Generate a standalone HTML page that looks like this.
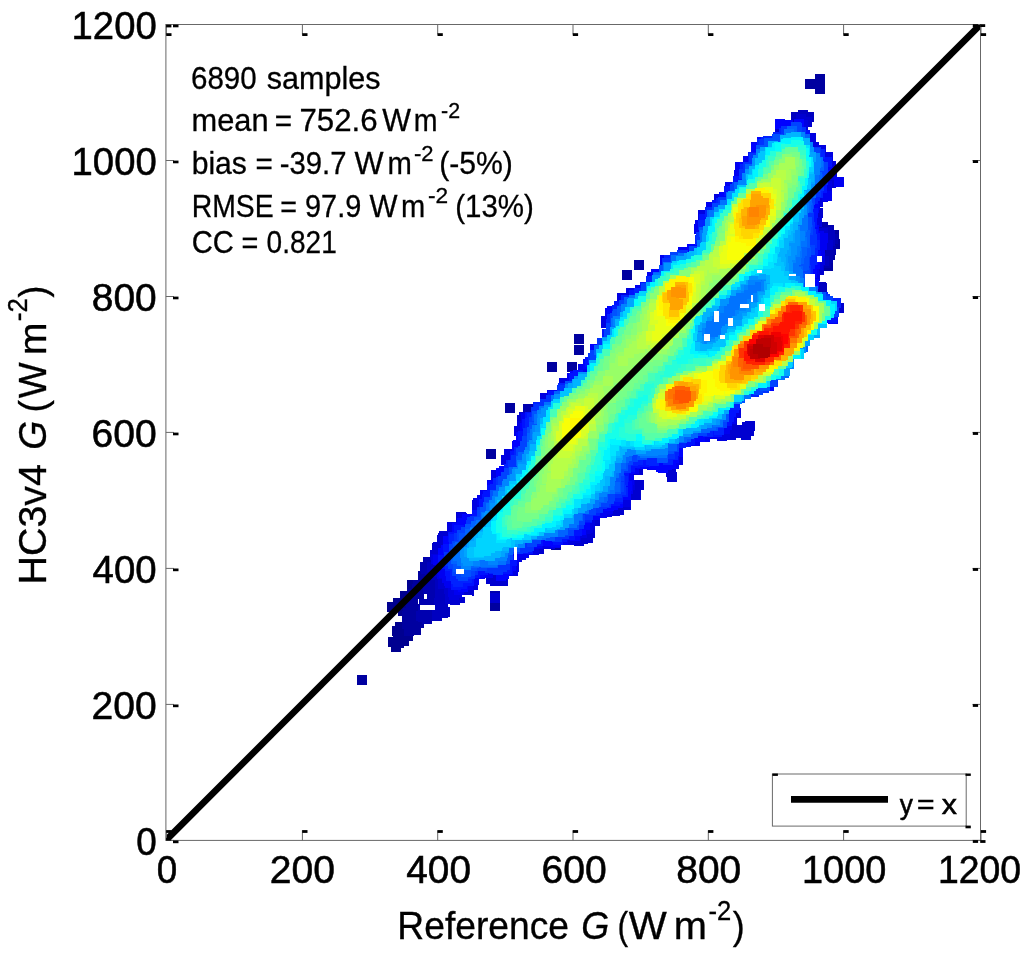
<!DOCTYPE html>
<html lang="en"><head><meta charset="utf-8"><title>HC3v4 G vs Reference G</title>
<style>
html,body{margin:0;padding:0;background:#fff;}
body{width:1024px;height:953px;overflow:hidden;}
svg{display:block;}
text{font-family:"Liberation Sans",Arial,Helvetica,sans-serif;fill:#000;stroke:#000;stroke-width:0.55px;}
.ax text{stroke-width:0.35px;}
.an text{stroke-width:0.3px;}
</style></head><body>
<svg width="1024" height="953" viewBox="0 0 1024 953">
<rect x="0" y="0" width="1024" height="953" fill="#fff"/>
<g shape-rendering="crispEdges">
<path fill="#000090" d="M391 642h10v10h-10zM387 602h10v10h-10zM388 637h10v10h-10zM394 638h10v10h-10zM399 636h10v10h-10zM392 626h10v10h-10zM393 633h10v10h-10zM394 632h10v10h-10zM393 598h10v10h-10zM395 625h10v10h-10zM395 622h10v10h-10zM403 631h10v10h-10zM400 591h10v10h-10zM398 602h10v10h-10zM400 593h10v10h-10zM402 627h10v10h-10zM398 606h10v10h-10zM407 580h10v10h-10zM407 584h10v10h-10z"/>
<path fill="#0000a0" d="M404 626h10v10h-10zM402 619h10v10h-10zM407 589h10v10h-10zM404 596h10v10h-10zM403 617h10v10h-10zM402 611h10v10h-10zM403 608h10v10h-10zM412 584h10v10h-10zM413 580h10v10h-10zM413 584h10v10h-10zM406 602h10v10h-10zM357 675h10v10h-10zM486 449h10v10h-10zM490 601h10v10h-10zM505 403h10v10h-10zM547 362h10v10h-10zM551 540h10v10h-10zM567 362h10v10h-10zM574 334h10v10h-10zM574 345h10v10h-10zM622 270h10v10h-10zM634 260h10v10h-10zM735 162h10v10h-10zM805 79h10v10h-10zM815 74h10v10h-10zM815 84h10v10h-10zM406 605h10v10h-10zM408 599h10v10h-10zM407 619h10v10h-10zM823 261h10v10h-10zM411 625h10v10h-10zM414 589h10v10h-10zM410 621h10v10h-10zM409 616h10v10h-10zM411 606h10v10h-10zM418 571h10v10h-10zM411 611h10v10h-10zM420 574h10v10h-10zM414 604h10v10h-10zM830 239h10v10h-10zM413 616h10v10h-10zM829 230h10v10h-10zM414 618h10v10h-10zM825 250h10v10h-10zM421 584h10v10h-10z"/>
<path fill="#0000b0" d="M490 591h10v10h-10zM420 562h10v10h-10zM416 611h10v10h-10zM821 258h10v10h-10zM423 584h10v10h-10zM421 564h10v10h-10zM823 253h10v10h-10zM419 599h10v10h-10zM824 225h10v10h-10zM418 605h10v10h-10zM424 581h10v10h-10zM818 222h10v10h-10zM418 612h10v10h-10zM826 245h10v10h-10zM425 574h10v10h-10zM423 563h10v10h-10zM427 591h10v10h-10zM422 614h10v10h-10zM428 578h10v10h-10zM428 576h10v10h-10zM429 590h10v10h-10zM427 597h10v10h-10zM424 606h10v10h-10zM428 597h10v10h-10zM427 569h10v10h-10zM828 234h10v10h-10zM427 601h10v10h-10zM431 585h10v10h-10zM426 608h10v10h-10zM523 404h10v10h-10zM423 557h10v10h-10z"/>
<path fill="#0000c0" d="M825 230h10v10h-10zM434 598h10v10h-10zM819 256h10v10h-10zM435 590h10v10h-10zM435 583h10v10h-10zM822 227h10v10h-10zM432 606h10v10h-10zM817 283h10v10h-10zM432 611h10v10h-10zM438 593h10v10h-10zM438 586h10v10h-10zM435 606h10v10h-10zM431 570h10v10h-10zM438 600h10v10h-10zM435 577h10v10h-10zM427 562h10v10h-10zM438 608h10v10h-10zM437 579h10v10h-10zM440 607h10v10h-10zM791 112h10v10h-10zM798 110h10v10h-10zM804 112h10v10h-10zM432 543h10v10h-10zM825 236h10v10h-10zM816 282h10v10h-10z"/>
<path fill="#0000d0" d="M517 415h10v10h-10zM834 303h10v10h-10zM431 567h10v10h-10zM741 430h10v10h-10zM438 579h10v10h-10zM433 542h10v10h-10zM744 426h10v10h-10zM823 240h10v10h-10zM796 114h10v10h-10zM445 594h10v10h-10zM519 412h10v10h-10zM445 592h10v10h-10zM814 265h10v10h-10zM433 544h10v10h-10zM430 550h10v10h-10zM802 117h10v10h-10zM437 535h10v10h-10zM439 531h10v10h-10zM438 533h10v10h-10zM745 421h10v10h-10zM740 427h10v10h-10zM583 533h10v10h-10zM742 422h10v10h-10zM490 593h10v10h-10zM734 428h10v10h-10zM732 428h10v10h-10zM734 425h10v10h-10zM631 490h10v10h-10zM634 480h10v10h-10zM731 425h10v10h-10zM667 472h10v10h-10zM726 430h10v10h-10zM585 528h10v10h-10zM578 534h10v10h-10zM455 593h10v10h-10zM450 595h10v10h-10zM775 123h10v10h-10zM574 536h10v10h-10zM490 576h10v10h-10zM534 544h10v10h-10zM666 467h10v10h-10zM486 574h10v10h-10zM813 208h10v10h-10zM818 228h10v10h-10zM826 178h10v10h-10zM621 500h10v10h-10zM464 586h10v10h-10zM614 505h10v10h-10zM727 418h10v10h-10zM610 506h10v10h-10zM633 465h10v10h-10zM590 516h10v10h-10zM444 584h10v10h-10zM456 512h10v10h-10zM498 576h10v10h-10z"/>
<path fill="#0000e1" d="M731 408h10v10h-10zM827 170h10v10h-10zM720 430h10v10h-10zM468 580h10v10h-10zM812 217h10v10h-10zM815 255h10v10h-10zM504 449h10v10h-10zM818 192h10v10h-10zM447 522h10v10h-10zM583 523h10v10h-10zM601 316h10v10h-10zM798 120h10v10h-10zM621 497h10v10h-10zM516 550h10v10h-10zM508 566h10v10h-10zM501 455h10v10h-10zM491 470h10v10h-10zM601 318h10v10h-10zM449 590h10v10h-10zM717 431h10v10h-10zM514 426h10v10h-10zM538 539h10v10h-10zM545 539h10v10h-10zM512 552h10v10h-10zM617 293h10v10h-10zM457 513h10v10h-10zM813 260h10v10h-10zM473 498h10v10h-10zM813 197h10v10h-10zM673 455h10v10h-10zM529 545h10v10h-10zM581 524h10v10h-10zM602 507h10v10h-10zM577 528h10v10h-10zM431 554h10v10h-10zM806 133h10v10h-10zM472 500h10v10h-10zM822 181h10v10h-10zM453 588h10v10h-10zM585 518h10v10h-10zM626 288h10v10h-10zM437 569h10v10h-10zM714 194h10v10h-10zM448 587h10v10h-10zM625 480h10v10h-10zM820 187h10v10h-10zM509 562h10v10h-10zM559 378h10v10h-10zM571 533h10v10h-10zM517 421h10v10h-10zM826 161h10v10h-10zM565 535h10v10h-10zM816 145h10v10h-10zM540 393h10v10h-10zM823 152h10v10h-10zM698 210h10v10h-10zM809 142h10v10h-10zM810 271h10v10h-10z"/>
<path fill="#0000f1" d="M726 414h10v10h-10zM690 436h10v10h-10zM519 548h10v10h-10zM725 182h10v10h-10zM521 413h10v10h-10zM828 314h10v10h-10zM480 490h10v10h-10zM624 475h10v10h-10zM647 272h10v10h-10zM818 233h10v10h-10zM469 575h10v10h-10zM700 432h10v10h-10zM660 255h10v10h-10zM629 464h10v10h-10zM780 121h10v10h-10zM477 495h10v10h-10zM475 569h10v10h-10zM533 539h10v10h-10zM735 162h10v10h-10zM822 191h10v10h-10zM834 177h10v10h-10zM605 308h10v10h-10zM597 508h10v10h-10zM669 459h10v10h-10zM445 578h10v10h-10zM442 573h10v10h-10zM439 568h10v10h-10zM817 240h10v10h-10zM558 535h10v10h-10zM487 480h10v10h-10zM444 576h10v10h-10zM435 561h10v10h-10zM710 429h10v10h-10zM433 555h10v10h-10zM454 585h10v10h-10zM734 170h10v10h-10zM437 564h10v10h-10zM751 142h10v10h-10zM694 224h10v10h-10zM635 285h10v10h-10zM706 202h10v10h-10zM603 504h10v10h-10zM678 247h10v10h-10zM545 537h10v10h-10zM438 565h10v10h-10zM815 246h10v10h-10zM623 470h10v10h-10zM550 538h10v10h-10zM809 264h10v10h-10zM695 220h10v10h-10zM722 420h10v10h-10zM463 580h10v10h-10zM743 156h10v10h-10zM578 364h10v10h-10zM720 424h10v10h-10zM814 231h10v10h-10zM567 373h10v10h-10zM814 248h10v10h-10zM512 441h10v10h-10zM480 568h10v10h-10zM483 568h10v10h-10zM647 460h10v10h-10zM547 390h10v10h-10zM509 554h10v10h-10zM623 484h10v10h-10zM810 200h10v10h-10zM817 236h10v10h-10z"/>
<path fill="#0002ff" d="M809 279h10v10h-10zM496 468h10v10h-10zM651 269h10v10h-10zM775 119h10v10h-10zM570 531h10v10h-10zM443 536h10v10h-10zM673 447h10v10h-10zM458 582h10v10h-10zM810 259h10v10h-10zM607 306h10v10h-10zM751 143h10v10h-10zM576 525h10v10h-10zM794 119h10v10h-10zM462 514h10v10h-10zM658 463h10v10h-10zM622 481h10v10h-10zM513 440h10v10h-10zM570 371h10v10h-10zM452 523h10v10h-10zM438 548h10v10h-10zM613 498h10v10h-10zM496 571h10v10h-10zM583 359h10v10h-10zM457 518h10v10h-10zM516 432h10v10h-10zM637 459h10v10h-10zM621 490h10v10h-10zM666 459h10v10h-10zM807 268h10v10h-10zM488 481h10v10h-10zM580 520h10v10h-10zM512 443h10v10h-10zM823 167h10v10h-10zM739 162h10v10h-10zM656 462h10v10h-10zM475 567h10v10h-10zM499 569h10v10h-10zM551 537h10v10h-10zM809 203h10v10h-10zM608 500h10v10h-10zM506 561h10v10h-10zM783 120h10v10h-10zM542 536h10v10h-10zM532 538h10v10h-10zM687 244h10v10h-10zM695 432h10v10h-10zM458 518h10v10h-10zM809 225h10v10h-10zM590 510h10v10h-10zM590 344h10v10h-10zM811 251h10v10h-10zM443 540h10v10h-10zM649 459h10v10h-10zM662 460h10v10h-10zM441 545h10v10h-10zM828 312h10v10h-10zM503 565h10v10h-10zM764 381h10v10h-10zM757 137h10v10h-10zM499 466h10v10h-10zM719 192h10v10h-10zM520 423h10v10h-10zM669 453h10v10h-10zM625 464h10v10h-10zM604 501h10v10h-10z"/>
<path fill="#0012ff" d="M712 427h10v10h-10zM681 437h10v10h-10zM451 580h10v10h-10zM464 576h10v10h-10zM808 208h10v10h-10zM733 176h10v10h-10zM724 186h10v10h-10zM822 157h10v10h-10zM507 556h10v10h-10zM522 419h10v10h-10zM483 491h10v10h-10zM553 535h10v10h-10zM446 571h10v10h-10zM821 170h10v10h-10zM525 412h10v10h-10zM630 458h10v10h-10zM487 485h10v10h-10zM439 559h10v10h-10zM817 183h10v10h-10zM724 412h10v10h-10zM827 313h10v10h-10zM518 431h10v10h-10zM569 373h10v10h-10zM448 532h10v10h-10zM685 435h10v10h-10zM470 568h10v10h-10zM523 544h10v10h-10zM722 416h10v10h-10zM572 526h10v10h-10zM602 329h10v10h-10zM457 579h10v10h-10zM800 130h10v10h-10zM443 544h10v10h-10zM548 391h10v10h-10zM699 214h10v10h-10zM748 152h10v10h-10zM454 525h10v10h-10zM613 494h10v10h-10zM502 564h10v10h-10zM640 457h10v10h-10zM808 255h10v10h-10zM533 536h10v10h-10zM573 370h10v10h-10zM625 462h10v10h-10zM438 555h10v10h-10zM619 472h10v10h-10zM807 217h10v10h-10zM482 494h10v10h-10zM610 496h10v10h-10zM640 282h10v10h-10zM478 565h10v10h-10zM585 357h10v10h-10zM510 451h10v10h-10zM726 407h10v10h-10zM712 200h10v10h-10zM810 233h10v10h-10zM445 566h10v10h-10zM557 532h10v10h-10zM729 403h10v10h-10zM629 290h10v10h-10zM479 499h10v10h-10zM808 229h10v10h-10zM565 530h10v10h-10zM582 513h10v10h-10zM472 510h10v10h-10zM614 301h10v10h-10z"/>
<path fill="#0022ff" d="M533 402h10v10h-10zM773 132h10v10h-10zM668 450h10v10h-10zM558 383h10v10h-10zM818 175h10v10h-10zM807 255h10v10h-10zM449 534h10v10h-10zM813 188h10v10h-10zM618 487h10v10h-10zM831 298h10v10h-10zM646 276h10v10h-10zM703 427h10v10h-10zM493 478h10v10h-10zM618 476h10v10h-10zM613 492h10v10h-10zM451 574h10v10h-10zM763 136h10v10h-10zM453 577h10v10h-10zM705 207h10v10h-10zM818 292h10v10h-10zM740 164h10v10h-10zM649 456h10v10h-10zM582 512h10v10h-10zM749 387h10v10h-10zM803 267h10v10h-10zM803 276h10v10h-10zM810 240h10v10h-10zM714 425h10v10h-10zM815 149h10v10h-10zM805 259h10v10h-10zM506 460h10v10h-10zM808 194h10v10h-10zM669 446h10v10h-10zM450 571h10v10h-10zM730 400h10v10h-10zM628 456h10v10h-10zM607 314h10v10h-10zM621 295h10v10h-10zM525 418h10v10h-10zM810 191h10v10h-10zM761 137h10v10h-10zM490 484h10v10h-10zM807 250h10v10h-10zM527 413h10v10h-10zM695 235h10v10h-10zM757 139h10v10h-10zM676 438h10v10h-10zM634 288h10v10h-10zM514 447h10v10h-10zM646 455h10v10h-10zM504 464h10v10h-10zM462 573h10v10h-10zM590 506h10v10h-10zM445 561h10v10h-10zM606 319h10v10h-10zM633 455h10v10h-10zM664 255h10v10h-10zM663 455h10v10h-10zM808 245h10v10h-10zM489 564h10v10h-10zM803 278h10v10h-10zM779 128h10v10h-10zM612 305h10v10h-10zM716 198h10v10h-10zM698 220h10v10h-10z"/>
<path fill="#0033ff" d="M811 147h10v10h-10zM467 517h10v10h-10zM601 498h10v10h-10zM621 463h10v10h-10zM662 258h10v10h-10zM768 377h10v10h-10zM805 222h10v10h-10zM749 153h10v10h-10zM557 385h10v10h-10zM485 563h10v10h-10zM759 383h10v10h-10zM583 510h10v10h-10zM677 250h10v10h-10zM518 543h10v10h-10zM522 542h10v10h-10zM806 229h10v10h-10zM781 126h10v10h-10zM696 232h10v10h-10zM493 565h10v10h-10zM678 250h10v10h-10zM465 569h10v10h-10zM616 485h10v10h-10zM593 503h10v10h-10zM531 407h10v10h-10zM540 399h10v10h-10zM513 544h10v10h-10zM814 181h10v10h-10zM468 565h10v10h-10zM524 541h10v10h-10zM807 234h10v10h-10zM496 477h10v10h-10zM477 507h10v10h-10zM574 519h10v10h-10zM552 532h10v10h-10zM801 265h10v10h-10zM444 552h10v10h-10zM508 460h10v10h-10zM743 162h10v10h-10zM559 529h10v10h-10zM523 428h10v10h-10zM534 404h10v10h-10zM470 516h10v10h-10zM588 353h10v10h-10zM511 455h10v10h-10zM811 187h10v10h-10zM796 127h10v10h-10zM818 166h10v10h-10zM718 197h10v10h-10zM597 338h10v10h-10zM597 499h10v10h-10zM739 169h10v10h-10zM820 294h10v10h-10zM615 475h10v10h-10zM500 560h10v10h-10zM546 395h10v10h-10zM804 212h10v10h-10zM665 449h10v10h-10zM466 520h10v10h-10zM807 238h10v10h-10zM612 488h10v10h-10zM445 556h10v10h-10zM454 533h10v10h-10zM511 544h10v10h-10zM759 139h10v10h-10zM497 562h10v10h-10z"/>
<path fill="#0043ff" d="M604 494h10v10h-10zM791 122h10v10h-10zM800 268h10v10h-10zM484 497h10v10h-10zM599 497h10v10h-10zM818 162h10v10h-10zM606 323h10v10h-10zM449 544h10v10h-10zM604 329h10v10h-10zM805 245h10v10h-10zM792 123h10v10h-10zM516 448h10v10h-10zM457 530h10v10h-10zM452 566h10v10h-10zM498 476h10v10h-10zM501 472h10v10h-10zM448 559h10v10h-10zM670 252h10v10h-10zM823 296h10v10h-10zM504 468h10v10h-10zM614 482h10v10h-10zM564 526h10v10h-10zM614 471h10v10h-10zM575 515h10v10h-10zM458 571h10v10h-10zM465 566h10v10h-10zM712 203h10v10h-10zM520 441h10v10h-10zM805 195h10v10h-10zM477 561h10v10h-10zM477 510h10v10h-10zM641 283h10v10h-10zM590 350h10v10h-10zM803 225h10v10h-10zM817 164h10v10h-10zM628 452h10v10h-10zM531 534h10v10h-10zM522 436h10v10h-10zM810 148h10v10h-10zM816 168h10v10h-10zM829 307h10v10h-10zM804 199h10v10h-10zM623 455h10v10h-10zM518 446h10v10h-10zM453 565h10v10h-10zM772 134h10v10h-10zM503 550h10v10h-10zM461 527h10v10h-10zM452 541h10v10h-10zM586 505h10v10h-10zM753 385h10v10h-10zM527 537h10v10h-10zM730 184h10v10h-10zM802 280h10v10h-10zM732 182h10v10h-10zM529 417h10v10h-10zM626 452h10v10h-10zM669 442h10v10h-10zM619 300h10v10h-10zM458 531h10v10h-10zM610 313h10v10h-10zM717 418h10v10h-10zM689 246h10v10h-10zM767 377h10v10h-10zM605 491h10v10h-10zM456 569h10v10h-10zM658 453h10v10h-10zM697 426h10v10h-10zM800 256h10v10h-10z"/>
<path fill="#0053ff" d="M803 203h10v10h-10zM490 490h10v10h-10zM799 260h10v10h-10zM657 453h10v10h-10zM802 217h10v10h-10zM465 524h10v10h-10zM480 507h10v10h-10zM618 461h10v10h-10zM798 273h10v10h-10zM760 381h10v10h-10zM483 502h10v10h-10zM532 411h10v10h-10zM801 247h10v10h-10zM569 520h10v10h-10zM813 174h10v10h-10zM764 138h10v10h-10zM453 562h10v10h-10zM611 484h10v10h-10zM658 452h10v10h-10zM461 567h10v10h-10zM708 421h10v10h-10zM659 265h10v10h-10zM799 252h10v10h-10zM735 393h10v10h-10zM773 134h10v10h-10zM681 432h10v10h-10zM474 517h10v10h-10zM467 561h10v10h-10zM453 543h10v10h-10zM545 531h10v10h-10zM613 309h10v10h-10zM664 444h10v10h-10zM801 223h10v10h-10zM527 427h10v10h-10zM451 548h10v10h-10zM699 227h10v10h-10zM797 261h10v10h-10zM612 311h10v10h-10zM459 533h10v10h-10zM810 182h10v10h-10zM500 554h10v10h-10zM719 412h10v10h-10zM529 422h10v10h-10zM614 466h10v10h-10zM756 145h10v10h-10zM637 450h10v10h-10zM611 476h10v10h-10zM565 381h10v10h-10zM510 542h10v10h-10zM816 292h10v10h-10z"/>
<path fill="#0063ff" d="M707 210h10v10h-10zM471 521h10v10h-10zM555 527h10v10h-10zM800 238h10v10h-10zM610 482h10v10h-10zM800 134h10v10h-10zM806 188h10v10h-10zM455 542h10v10h-10zM688 428h10v10h-10zM451 554h10v10h-10zM667 441h10v10h-10zM624 297h10v10h-10zM812 172h10v10h-10zM798 342h10v10h-10zM800 235h10v10h-10zM597 493h10v10h-10zM700 423h10v10h-10zM622 451h10v10h-10zM800 230h10v10h-10zM797 246h10v10h-10zM677 433h10v10h-10zM594 345h10v10h-10zM653 272h10v10h-10zM481 558h10v10h-10zM484 558h10v10h-10zM488 558h10v10h-10zM745 164h10v10h-10zM518 452h10v10h-10zM558 525h10v10h-10zM801 202h10v10h-10zM496 485h10v10h-10zM797 242h10v10h-10zM734 182h10v10h-10zM706 420h10v10h-10zM794 254h10v10h-10zM509 467h10v10h-10zM554 391h10v10h-10zM814 161h10v10h-10zM616 459h10v10h-10zM516 456h10v10h-10zM469 558h10v10h-10zM787 126h10v10h-10zM795 248h10v10h-10zM779 368h10v10h-10zM617 306h10v10h-10zM808 286h10v10h-10zM802 195h10v10h-10zM503 545h10v10h-10zM598 491h10v10h-10zM465 529h10v10h-10zM793 266h10v10h-10zM527 433h10v10h-10zM591 497h10v10h-10zM573 511h10v10h-10zM684 429h10v10h-10zM619 453h10v10h-10z"/>
<path fill="#0073ff" d="M640 448h10v10h-10zM646 448h10v10h-10zM567 518h10v10h-10zM797 237h10v10h-10zM536 530h10v10h-10zM487 557h10v10h-10zM729 302h10v10h-10zM732 294h10v10h-10zM736 300h10v10h-10zM737 294h10v10h-10zM738 296h10v10h-10zM738 299h10v10h-10zM729 303h10v10h-10zM734 305h10v10h-10zM725 302h10v10h-10zM724 304h10v10h-10zM736 291h10v10h-10zM478 557h10v10h-10zM727 310h10v10h-10zM496 555h10v10h-10zM720 303h10v10h-10zM720 309h10v10h-10zM711 316h10v10h-10zM712 319h10v10h-10zM716 313h10v10h-10zM718 317h10v10h-10zM717 311h10v10h-10zM717 322h10v10h-10zM713 323h10v10h-10zM704 323h10v10h-10zM706 319h10v10h-10zM709 327h10v10h-10zM706 316h10v10h-10zM712 329h10v10h-10zM727 294h10v10h-10zM740 288h10v10h-10zM706 330h10v10h-10zM740 287h10v10h-10zM453 551h10v10h-10zM798 220h10v10h-10zM702 320h10v10h-10zM534 414h10v10h-10zM747 289h10v10h-10zM722 319h10v10h-10zM678 253h10v10h-10zM700 331h10v10h-10zM743 283h10v10h-10zM748 289h10v10h-10zM611 318h10v10h-10zM744 297h10v10h-10zM493 491h10v10h-10zM726 315h10v10h-10zM718 302h10v10h-10zM486 503h10v10h-10zM481 512h10v10h-10zM750 285h10v10h-10zM652 448h10v10h-10zM699 326h10v10h-10zM589 498h10v10h-10zM712 308h10v10h-10zM605 484h10v10h-10zM752 279h10v10h-10zM569 515h10v10h-10zM713 417h10v10h-10zM539 406h10v10h-10zM745 278h10v10h-10zM714 329h10v10h-10zM791 255h10v10h-10zM755 281h10v10h-10zM813 157h10v10h-10zM700 230h10v10h-10zM474 557h10v10h-10zM657 448h10v10h-10zM755 287h10v10h-10zM793 270h10v10h-10zM755 275h10v10h-10zM697 240h10v10h-10zM730 289h10v10h-10zM671 255h10v10h-10zM663 262h10v10h-10zM643 447h10v10h-10zM750 274h10v10h-10zM792 248h10v10h-10zM784 129h10v10h-10zM791 267h10v10h-10zM732 311h10v10h-10zM792 269h10v10h-10zM709 210h10v10h-10zM724 319h10v10h-10zM476 520h10v10h-10zM797 222h10v10h-10zM775 370h10v10h-10zM702 336h10v10h-10zM759 284h10v10h-10zM741 389h10v10h-10zM797 215h10v10h-10zM702 317h10v10h-10zM726 192h10v10h-10zM697 324h10v10h-10zM594 492h10v10h-10zM530 429h10v10h-10zM809 174h10v10h-10zM798 211h10v10h-10zM726 292h10v10h-10zM572 510h10v10h-10zM457 556h10v10h-10zM458 544h10v10h-10zM544 402h10v10h-10zM750 294h10v10h-10zM470 527h10v10h-10zM653 273h10v10h-10zM551 395h10v10h-10zM793 273h10v10h-10zM629 295h10v10h-10zM653 447h10v10h-10zM789 260h10v10h-10zM796 226h10v10h-10zM703 337h10v10h-10zM609 468h10v10h-10zM799 203h10v10h-10zM579 504h10v10h-10zM720 200h10v10h-10z"/>
<path fill="#0084ff" d="M756 149h10v10h-10zM745 275h10v10h-10zM489 500h10v10h-10zM708 337h10v10h-10zM515 538h10v10h-10zM714 303h10v10h-10zM739 306h10v10h-10zM537 410h10v10h-10zM470 556h10v10h-10zM732 394h10v10h-10zM482 513h10v10h-10zM503 479h10v10h-10zM735 310h10v10h-10zM795 231h10v10h-10zM806 286h10v10h-10zM532 425h10v10h-10zM794 278h10v10h-10zM648 446h10v10h-10zM790 247h10v10h-10zM738 280h10v10h-10zM751 272h10v10h-10zM613 316h10v10h-10zM497 551h10v10h-10zM623 446h10v10h-10zM461 560h10v10h-10zM810 153h10v10h-10zM658 445h10v10h-10zM470 528h10v10h-10zM460 542h10v10h-10zM761 281h10v10h-10zM791 241h10v10h-10zM548 527h10v10h-10zM616 453h10v10h-10zM734 283h10v10h-10zM638 446h10v10h-10zM502 481h10v10h-10zM784 359h10v10h-10zM488 555h10v10h-10zM611 463h10v10h-10zM710 306h10v10h-10zM747 299h10v10h-10zM695 328h10v10h-10zM742 173h10v10h-10zM753 155h10v10h-10zM498 548h10v10h-10zM492 496h10v10h-10zM540 528h10v10h-10zM753 293h10v10h-10zM804 185h10v10h-10zM728 318h10v10h-10zM629 445h10v10h-10zM621 304h10v10h-10zM801 191h10v10h-10zM532 530h10v10h-10zM517 460h10v10h-10zM507 475h10v10h-10zM466 534h10v10h-10zM738 180h10v10h-10zM606 471h10v10h-10zM597 487h10v10h-10zM702 339h10v10h-10zM795 132h10v10h-10zM475 524h10v10h-10zM786 253h10v10h-10zM674 432h10v10h-10zM714 301h10v10h-10zM810 165h10v10h-10zM604 480h10v10h-10zM600 484h10v10h-10zM706 309h10v10h-10zM762 274h10v10h-10zM803 142h10v10h-10zM513 467h10v10h-10zM527 442h10v10h-10zM619 447h10v10h-10zM565 384h10v10h-10zM611 461h10v10h-10zM811 158h10v10h-10zM605 476h10v10h-10zM525 447h10v10h-10z"/>
<path fill="#0094ff" d="M790 236h10v10h-10zM728 191h10v10h-10zM512 469h10v10h-10zM694 336h10v10h-10zM602 337h10v10h-10zM805 181h10v10h-10zM583 499h10v10h-10zM787 245h10v10h-10zM732 316h10v10h-10zM499 487h10v10h-10zM796 343h10v10h-10zM578 372h10v10h-10zM745 169h10v10h-10zM485 511h10v10h-10zM463 556h10v10h-10zM710 415h10v10h-10zM484 513h10v10h-10zM722 326h10v10h-10zM524 450h10v10h-10zM785 250h10v10h-10zM574 376h10v10h-10zM716 410h10v10h-10zM714 207h10v10h-10zM797 205h10v10h-10zM752 158h10v10h-10zM734 281h10v10h-10zM581 500h10v10h-10zM652 275h10v10h-10zM694 338h10v10h-10zM522 454h10v10h-10zM757 291h10v10h-10zM691 423h10v10h-10zM757 270h10v10h-10zM746 304h10v10h-10zM727 193h10v10h-10zM460 548h10v10h-10zM739 311h10v10h-10zM702 311h10v10h-10zM541 408h10v10h-10zM725 324h10v10h-10zM721 328h10v10h-10zM529 440h10v10h-10zM664 263h10v10h-10zM783 262h10v10h-10zM490 503h10v10h-10zM702 418h10v10h-10zM790 276h10v10h-10zM706 217h10v10h-10zM731 283h10v10h-10zM538 414h10v10h-10zM696 318h10v10h-10zM711 339h10v10h-10zM717 296h10v10h-10zM544 405h10v10h-10zM461 553h10v10h-10zM783 265h10v10h-10zM719 294h10v10h-10zM785 242h10v10h-10zM554 394h10v10h-10zM790 228h10v10h-10zM510 474h10v10h-10zM782 260h10v10h-10zM537 418h10v10h-10zM518 462h10v10h-10zM782 252h10v10h-10zM749 302h10v10h-10zM737 314h10v10h-10zM535 425h10v10h-10zM804 147h10v10h-10zM705 219h10v10h-10zM681 427h10v10h-10zM747 270h10v10h-10zM790 226h10v10h-10zM532 434h10v10h-10z"/>
<path fill="#00a4ff" d="M564 514h10v10h-10zM669 434h10v10h-10zM703 226h10v10h-10zM602 338h10v10h-10zM533 432h10v10h-10zM692 332h10v10h-10zM598 482h10v10h-10zM575 503h10v10h-10zM707 342h10v10h-10zM758 269h10v10h-10zM792 215h10v10h-10zM758 292h10v10h-10zM498 491h10v10h-10zM636 444h10v10h-10zM628 298h10v10h-10zM627 299h10v10h-10zM559 518h10v10h-10zM764 281h10v10h-10zM702 233h10v10h-10zM612 453h10v10h-10zM706 415h10v10h-10zM676 256h10v10h-10zM499 543h10v10h-10zM805 174h10v10h-10zM572 379h10v10h-10zM577 501h10v10h-10zM467 539h10v10h-10zM522 533h10v10h-10zM786 273h10v10h-10zM479 524h10v10h-10zM684 253h10v10h-10zM495 547h10v10h-10zM719 404h10v10h-10zM810 328h10v10h-10zM568 383h10v10h-10zM715 337h10v10h-10zM726 286h10v10h-10zM613 450h10v10h-10zM781 246h10v10h-10zM589 490h10v10h-10zM518 464h10v10h-10zM697 419h10v10h-10zM646 282h10v10h-10zM738 275h10v10h-10zM794 208h10v10h-10zM760 147h10v10h-10zM800 336h10v10h-10zM515 469h10v10h-10zM482 521h10v10h-10zM718 205h10v10h-10zM785 233h10v10h-10zM555 520h10v10h-10zM733 320h10v10h-10zM691 334h10v10h-10zM495 497h10v10h-10zM472 533h10v10h-10zM585 494h10v10h-10zM801 184h10v10h-10zM779 263h10v10h-10zM692 321h10v10h-10zM610 327h10v10h-10zM508 537h10v10h-10zM751 303h10v10h-10zM562 514h10v10h-10zM806 152h10v10h-10zM718 335h10v10h-10zM703 306h10v10h-10zM778 255h10v10h-10zM780 366h10v10h-10zM464 547h10v10h-10zM742 313h10v10h-10zM783 271h10v10h-10z"/>
<path fill="#00b4ff" d="M615 445h10v10h-10zM485 551h10v10h-10zM749 166h10v10h-10zM697 344h10v10h-10zM699 344h10v10h-10zM703 344h10v10h-10zM691 421h10v10h-10zM604 467h10v10h-10zM707 302h10v10h-10zM696 313h10v10h-10zM600 476h10v10h-10zM615 319h10v10h-10zM530 444h10v10h-10zM635 293h10v10h-10zM641 441h10v10h-10zM791 132h10v10h-10zM731 280h10v10h-10zM788 220h10v10h-10zM658 438h10v10h-10zM505 538h10v10h-10zM469 551h10v10h-10zM578 374h10v10h-10zM697 311h10v10h-10zM804 172h10v10h-10zM573 379h10v10h-10zM800 138h10v10h-10zM687 252h10v10h-10zM631 440h10v10h-10zM617 442h10v10h-10zM783 231h10v10h-10zM612 448h10v10h-10zM776 257h10v10h-10zM526 454h10v10h-10zM779 240h10v10h-10zM759 295h10v10h-10zM683 424h10v10h-10zM692 343h10v10h-10zM469 541h10v10h-10zM766 273h10v10h-10zM728 327h10v10h-10zM700 307h10v10h-10zM490 548h10v10h-10zM768 141h10v10h-10zM709 299h10v10h-10zM780 135h10v10h-10zM655 439h10v10h-10zM777 244h10v10h-10zM499 541h10v10h-10zM527 529h10v10h-10zM689 251h10v10h-10zM775 252h10v10h-10zM474 534h10v10h-10zM479 550h10v10h-10zM589 360h10v10h-10zM513 534h10v10h-10zM540 418h10v10h-10zM600 471h10v10h-10zM785 223h10v10h-10zM620 312h10v10h-10zM779 236h10v10h-10zM491 547h10v10h-10zM592 483h10v10h-10zM766 271h10v10h-10zM812 292h10v10h-10zM786 133h10v10h-10zM477 531h10v10h-10z"/>
<path fill="#00c4ff" d="M491 509h10v10h-10zM545 523h10v10h-10zM801 179h10v10h-10zM783 357h10v10h-10zM505 486h10v10h-10zM747 312h10v10h-10zM505 537h10v10h-10zM622 439h10v10h-10zM751 308h10v10h-10zM694 248h10v10h-10zM789 212h10v10h-10zM727 329h10v10h-10zM736 274h10v10h-10zM509 481h10v10h-10zM712 409h10v10h-10zM737 185h10v10h-10zM774 262h10v10h-10zM758 153h10v10h-10zM593 481h10v10h-10zM755 158h10v10h-10zM743 316h10v10h-10zM560 391h10v10h-10zM690 342h10v10h-10zM794 199h10v10h-10zM779 271h10v10h-10zM596 349h10v10h-10zM534 526h10v10h-10zM713 343h10v10h-10zM467 548h10v10h-10zM720 288h10v10h-10zM646 439h10v10h-10zM650 439h10v10h-10zM605 461h10v10h-10zM529 451h10v10h-10zM602 466h10v10h-10zM767 284h10v10h-10zM810 325h10v10h-10zM775 266h10v10h-10zM564 388h10v10h-10zM718 339h10v10h-10zM568 504h10v10h-10zM716 341h10v10h-10zM734 391h10v10h-10zM486 521h10v10h-10zM749 266h10v10h-10zM796 191h10v10h-10zM627 438h10v10h-10zM746 174h10v10h-10zM478 532h10v10h-10zM665 433h10v10h-10zM585 489h10v10h-10zM599 345h10v10h-10zM772 262h10v10h-10zM804 164h10v10h-10zM760 151h10v10h-10zM688 324h10v10h-10zM757 302h10v10h-10zM785 280h10v10h-10zM610 446h10v10h-10zM781 225h10v10h-10zM771 257h10v10h-10zM541 523h10v10h-10zM783 221h10v10h-10zM497 500h10v10h-10zM469 547h10v10h-10zM788 281h10v10h-10zM817 318h10v10h-10zM595 476h10v10h-10zM563 508h10v10h-10zM474 548h10v10h-10z"/>
<path fill="#00d4ff" d="M774 238h10v10h-10zM710 296h10v10h-10zM516 474h10v10h-10zM714 212h10v10h-10zM827 301h10v10h-10zM521 530h10v10h-10zM725 333h10v10h-10zM765 290h10v10h-10zM794 349h10v10h-10zM742 319h10v10h-10zM710 217h10v10h-10zM804 162h10v10h-10zM639 291h10v10h-10zM635 440h10v10h-10zM782 358h10v10h-10zM550 519h10v10h-10zM483 527h10v10h-10zM553 517h10v10h-10zM580 493h10v10h-10zM778 228h10v10h-10zM770 271h10v10h-10zM770 280h10v10h-10zM590 481h10v10h-10zM540 424h10v10h-10zM474 547h10v10h-10zM551 401h10v10h-10zM621 437h10v10h-10zM624 437h10v10h-10zM625 307h10v10h-10zM562 508h10v10h-10zM771 275h10v10h-10zM476 538h10v10h-10zM750 313h10v10h-10zM791 203h10v10h-10zM547 520h10v10h-10zM702 413h10v10h-10zM766 265h10v10h-10zM771 266h10v10h-10zM778 276h10v10h-10zM739 270h10v10h-10zM774 234h10v10h-10zM755 307h10v10h-10zM481 546h10v10h-10zM687 331h10v10h-10zM761 298h10v10h-10zM732 392h10v10h-10zM707 349h10v10h-10zM773 273h10v10h-10zM606 451h10v10h-10zM700 243h10v10h-10zM672 261h10v10h-10zM697 247h10v10h-10zM774 271h10v10h-10zM759 264h10v10h-10zM501 537h10v10h-10zM491 515h10v10h-10zM587 365h10v10h-10zM763 295h10v10h-10zM760 377h10v10h-10zM607 335h10v10h-10zM804 330h10v10h-10zM793 196h10v10h-10zM768 249h10v10h-10zM497 503h10v10h-10zM492 541h10v10h-10zM781 280h10v10h-10zM564 505h10v10h-10zM510 484h10v10h-10zM485 543h10v10h-10zM770 242h10v10h-10zM745 318h10v10h-10zM577 494h10v10h-10zM484 528h10v10h-10zM623 311h10v10h-10zM777 278h10v10h-10zM755 308h10v10h-10zM482 535h10v10h-10zM727 280h10v10h-10zM484 541h10v10h-10zM652 437h10v10h-10zM481 540h10v10h-10zM483 533h10v10h-10zM491 537h10v10h-10zM493 538h10v10h-10zM769 244h10v10h-10zM488 531h10v10h-10zM553 399h10v10h-10zM701 242h10v10h-10zM604 454h10v10h-10zM712 347h10v10h-10z"/>
<path fill="#00e5ff" d="M793 283h10v10h-10zM767 253h10v10h-10zM735 189h10v10h-10zM758 304h10v10h-10zM529 526h10v10h-10zM609 441h10v10h-10zM498 502h10v10h-10zM730 277h10v10h-10zM606 446h10v10h-10zM603 341h10v10h-10zM753 264h10v10h-10zM724 398h10v10h-10zM571 498h10v10h-10zM736 326h10v10h-10zM721 285h10v10h-10zM630 436h10v10h-10zM727 199h10v10h-10zM824 308h10v10h-10zM585 484h10v10h-10zM765 147h10v10h-10zM764 258h10v10h-10zM773 283h10v10h-10zM502 496h10v10h-10zM790 202h10v10h-10zM537 436h10v10h-10zM745 265h10v10h-10zM692 312h10v10h-10zM729 332h10v10h-10zM496 533h10v10h-10zM620 317h10v10h-10zM716 289h10v10h-10zM607 440h10v10h-10zM507 490h10v10h-10zM780 220h10v10h-10zM701 351h10v10h-10zM543 417h10v10h-10zM655 435h10v10h-10zM581 488h10v10h-10zM695 351h10v10h-10zM690 315h10v10h-10zM761 259h10v10h-10zM671 263h10v10h-10zM803 157h10v10h-10zM601 454h10v10h-10zM616 436h10v10h-10zM546 410h10v10h-10zM612 329h10v10h-10zM732 193h10v10h-10zM752 169h10v10h-10zM706 235h10v10h-10zM585 482h10v10h-10zM748 175h10v10h-10zM551 515h10v10h-10zM714 404h10v10h-10zM493 516h10v10h-10zM719 209h10v10h-10zM599 459h10v10h-10zM800 145h10v10h-10zM707 231h10v10h-10zM773 230h10v10h-10zM673 426h10v10h-10zM694 415h10v10h-10zM570 497h10v10h-10zM548 407h10v10h-10zM783 214h10v10h-10z"/>
<path fill="#00f5ff" d="M793 137h10v10h-10zM659 433h10v10h-10zM562 504h10v10h-10zM799 287h10v10h-10zM522 470h10v10h-10zM791 349h10v10h-10zM527 461h10v10h-10zM491 521h10v10h-10zM797 180h10v10h-10zM685 341h10v10h-10zM685 347h10v10h-10zM708 226h10v10h-10zM709 351h10v10h-10zM661 271h10v10h-10zM512 530h10v10h-10zM634 437h10v10h-10zM707 408h10v10h-10zM669 428h10v10h-10zM720 400h10v10h-10zM600 450h10v10h-10zM593 469h10v10h-10zM770 288h10v10h-10zM687 418h10v10h-10zM755 165h10v10h-10zM536 440h10v10h-10zM766 148h10v10h-10zM689 417h10v10h-10zM813 294h10v10h-10zM667 429h10v10h-10zM535 522h10v10h-10zM791 137h10v10h-10zM592 470h10v10h-10zM590 473h10v10h-10zM757 378h10v10h-10zM688 351h10v10h-10zM546 517h10v10h-10zM611 435h10v10h-10zM772 286h10v10h-10zM785 283h10v10h-10zM527 525h10v10h-10zM769 237h10v10h-10zM581 485h10v10h-10zM679 260h10v10h-10zM783 138h10v10h-10zM650 282h10v10h-10zM764 298h10v10h-10zM600 446h10v10h-10zM772 143h10v10h-10zM821 300h10v10h-10zM677 261h10v10h-10zM497 530h10v10h-10zM825 304h10v10h-10zM798 175h10v10h-10zM499 506h10v10h-10zM607 434h10v10h-10zM686 351h10v10h-10zM763 252h10v10h-10zM783 212h10v10h-10zM554 510h10v10h-10zM590 363h10v10h-10zM774 142h10v10h-10zM781 139h10v10h-10zM492 524h10v10h-10zM794 187h10v10h-10zM542 518h10v10h-10zM771 369h10v10h-10zM587 475h10v10h-10zM696 353h10v10h-10zM712 219h10v10h-10zM753 170h10v10h-10zM744 384h10v10h-10zM806 291h10v10h-10zM526 465h10v10h-10z"/>
<path fill="#06fff9" d="M497 512h10v10h-10zM739 187h10v10h-10zM765 244h10v10h-10zM514 485h10v10h-10zM748 319h10v10h-10zM595 461h10v10h-10zM517 481h10v10h-10zM594 463h10v10h-10zM634 299h10v10h-10zM564 499h10v10h-10zM741 266h10v10h-10zM600 438h10v10h-10zM775 224h10v10h-10zM514 528h10v10h-10zM520 477h10v10h-10zM685 323h10v10h-10zM729 335h10v10h-10zM780 216h10v10h-10zM507 495h10v10h-10zM511 490h10v10h-10zM735 330h10v10h-10zM614 328h10v10h-10zM714 217h10v10h-10zM619 321h10v10h-10zM647 286h10v10h-10zM591 466h10v10h-10zM799 148h10v10h-10zM817 314h10v10h-10zM541 428h10v10h-10zM708 406h10v10h-10zM531 456h10v10h-10zM775 143h10v10h-10zM801 157h10v10h-10zM597 353h10v10h-10zM690 354h10v10h-10zM500 529h10v10h-10zM573 489h10v10h-10zM603 344h10v10h-10zM734 271h10v10h-10zM637 431h10v10h-10zM638 431h10v10h-10zM550 511h10v10h-10zM799 168h10v10h-10zM505 499h10v10h-10zM561 500h10v10h-10zM758 256h10v10h-10zM644 435h10v10h-10zM513 489h10v10h-10zM632 430h10v10h-10z"/>
<path fill="#16ffe9" d="M597 440h10v10h-10zM499 512h10v10h-10zM759 163h10v10h-10zM709 234h10v10h-10zM673 265h10v10h-10zM616 326h10v10h-10zM747 180h10v10h-10zM572 489h10v10h-10zM753 259h10v10h-10zM683 333h10v10h-10zM605 429h10v10h-10zM592 461h10v10h-10zM496 520h10v10h-10zM638 296h10v10h-10zM593 453h10v10h-10zM767 236h10v10h-10zM774 366h10v10h-10zM748 179h10v10h-10zM507 528h10v10h-10zM585 472h10v10h-10zM821 310h10v10h-10zM594 446h10v10h-10zM509 495h10v10h-10zM580 479h10v10h-10zM698 355h10v10h-10zM794 141h10v10h-10zM598 436h10v10h-10zM744 324h10v10h-10zM726 340h10v10h-10zM790 193h10v10h-10zM496 523h10v10h-10zM684 354h10v10h-10zM787 200h10v10h-10zM593 448h10v10h-10zM791 140h10v10h-10zM725 205h10v10h-10zM686 259h10v10h-10zM758 311h10v10h-10zM609 428h10v10h-10zM680 348h10v10h-10zM691 256h10v10h-10zM723 397h10v10h-10zM765 155h10v10h-10zM680 343h10v10h-10zM655 279h10v10h-10zM807 325h10v10h-10zM616 430h10v10h-10zM521 524h10v10h-10zM576 483h10v10h-10zM681 339h10v10h-10zM679 355h10v10h-10zM602 428h10v10h-10zM553 506h10v10h-10zM677 354h10v10h-10zM525 472h10v10h-10zM766 370h10v10h-10zM762 160h10v10h-10zM675 348h10v10h-10zM564 495h10v10h-10zM778 287h10v10h-10zM679 359h10v10h-10zM785 203h10v10h-10zM720 347h10v10h-10zM682 334h10v10h-10zM746 381h10v10h-10zM675 360h10v10h-10zM503 506h10v10h-10zM771 227h10v10h-10zM607 424h10v10h-10zM610 423h10v10h-10zM615 427h10v10h-10zM498 519h10v10h-10zM626 400h10v10h-10zM628 403h10v10h-10zM630 399h10v10h-10zM634 405h10v10h-10zM635 400h10v10h-10zM627 406h10v10h-10zM620 406h10v10h-10zM626 409h10v10h-10zM619 409h10v10h-10zM630 411h10v10h-10zM633 394h10v10h-10zM799 164h10v10h-10zM670 357h10v10h-10zM631 393h10v10h-10zM637 392h10v10h-10zM639 393h10v10h-10zM640 390h10v10h-10zM609 420h10v10h-10zM614 419h10v10h-10zM643 393h10v10h-10zM644 389h10v10h-10zM765 238h10v10h-10zM618 417h10v10h-10zM615 414h10v10h-10zM616 412h10v10h-10zM621 419h10v10h-10zM686 358h10v10h-10zM668 362h10v10h-10z"/>
<path fill="#26ffd9" d="M796 145h10v10h-10zM706 242h10v10h-10zM642 385h10v10h-10zM667 361h10v10h-10zM673 364h10v10h-10zM624 397h10v10h-10zM624 419h10v10h-10zM502 527h10v10h-10zM666 364h10v10h-10zM670 365h10v10h-10zM591 450h10v10h-10zM739 385h10v10h-10zM619 427h10v10h-10zM630 307h10v10h-10zM628 415h10v10h-10zM633 387h10v10h-10zM770 295h10v10h-10zM781 210h10v10h-10zM664 272h10v10h-10zM647 384h10v10h-10zM740 188h10v10h-10zM642 434h10v10h-10zM666 371h10v10h-10zM699 409h10v10h-10zM580 475h10v10h-10zM694 255h10v10h-10zM717 285h10v10h-10zM770 151h10v10h-10zM662 372h10v10h-10zM524 522h10v10h-10zM659 362h10v10h-10zM627 417h10v10h-10zM647 288h10v10h-10zM513 493h10v10h-10zM658 364h10v10h-10zM522 480h10v10h-10zM799 161h10v10h-10zM552 505h10v10h-10zM590 455h10v10h-10zM742 327h10v10h-10zM754 317h10v10h-10zM542 513h10v10h-10zM669 372h10v10h-10zM514 525h10v10h-10zM562 495h10v10h-10zM642 382h10v10h-10zM787 197h10v10h-10zM626 431h10v10h-10zM702 298h10v10h-10zM519 485h10v10h-10zM748 259h10v10h-10zM681 418h10v10h-10zM642 401h10v10h-10zM529 465h10v10h-10zM763 306h10v10h-10zM605 420h10v10h-10zM758 169h10v10h-10zM717 351h10v10h-10zM688 359h10v10h-10zM531 460h10v10h-10zM528 468h10v10h-10zM553 403h10v10h-10zM648 380h10v10h-10zM649 386h10v10h-10zM503 510h10v10h-10zM670 269h10v10h-10zM532 518h10v10h-10zM748 379h10v10h-10zM587 461h10v10h-10zM574 481h10v10h-10zM609 413h10v10h-10zM655 370h10v10h-10zM706 357h10v10h-10zM615 405h10v10h-10zM671 348h10v10h-10zM585 464h10v10h-10zM795 176h10v10h-10zM781 144h10v10h-10zM631 387h10v10h-10zM643 378h10v10h-10zM758 249h10v10h-10zM596 358h10v10h-10zM674 345h10v10h-10zM680 264h10v10h-10zM744 261h10v10h-10zM595 437h10v10h-10zM621 428h10v10h-10zM791 286h10v10h-10zM643 401h10v10h-10zM705 295h10v10h-10zM708 241h10v10h-10zM706 244h10v10h-10zM663 356h10v10h-10zM646 376h10v10h-10zM654 375h10v10h-10z"/>
<path fill="#37ffc8" d="M720 213h10v10h-10zM648 395h10v10h-10zM681 364h10v10h-10zM693 358h10v10h-10zM701 358h10v10h-10zM654 365h10v10h-10zM753 255h10v10h-10zM651 388h10v10h-10zM543 511h10v10h-10zM654 379h10v10h-10zM712 232h10v10h-10zM510 499h10v10h-10zM628 424h10v10h-10zM775 292h10v10h-10zM792 184h10v10h-10zM520 522h10v10h-10zM650 373h10v10h-10zM587 372h10v10h-10zM796 150h10v10h-10zM625 423h10v10h-10zM570 484h10v10h-10zM627 313h10v10h-10zM641 404h10v10h-10zM729 340h10v10h-10zM660 276h10v10h-10zM768 229h10v10h-10zM526 476h10v10h-10zM768 156h10v10h-10zM658 379h10v10h-10zM797 168h10v10h-10zM658 278h10v10h-10zM649 369h10v10h-10zM628 389h10v10h-10zM524 480h10v10h-10zM602 423h10v10h-10zM602 349h10v10h-10zM637 424h10v10h-10zM556 498h10v10h-10zM599 354h10v10h-10zM715 354h10v10h-10zM760 243h10v10h-10zM502 517h10v10h-10zM638 408h10v10h-10zM722 348h10v10h-10zM618 400h10v10h-10zM712 356h10v10h-10zM662 377h10v10h-10zM674 268h10v10h-10zM723 210h10v10h-10zM581 380h10v10h-10zM508 524h10v10h-10zM507 524h10v10h-10zM579 470h10v10h-10zM702 406h10v10h-10zM535 451h10v10h-10zM678 368h10v10h-10zM668 424h10v10h-10zM681 329h10v10h-10zM662 427h10v10h-10zM702 251h10v10h-10zM703 250h10v10h-10zM674 371h10v10h-10zM542 510h10v10h-10zM766 160h10v10h-10zM652 431h10v10h-10zM537 445h10v10h-10zM642 374h10v10h-10zM535 514h10v10h-10z"/>
<path fill="#47ffb8" d="M645 371h10v10h-10zM608 412h10v10h-10zM550 409h10v10h-10zM737 333h10v10h-10zM637 411h10v10h-10zM721 280h10v10h-10zM662 355h10v10h-10zM617 400h10v10h-10zM663 377h10v10h-10zM717 219h10v10h-10zM725 346h10v10h-10zM611 337h10v10h-10zM715 223h10v10h-10zM685 414h10v10h-10zM774 295h10v10h-10zM567 484h10v10h-10zM753 252h10v10h-10zM706 359h10v10h-10zM703 405h10v10h-10zM667 424h10v10h-10zM686 364h10v10h-10zM788 190h10v10h-10zM624 319h10v10h-10zM634 381h10v10h-10zM569 481h10v10h-10zM603 349h10v10h-10zM532 515h10v10h-10zM769 365h10v10h-10zM763 309h10v10h-10zM563 488h10v10h-10zM655 361h10v10h-10zM785 288h10v10h-10zM686 263h10v10h-10zM666 350h10v10h-10zM658 428h10v10h-10zM796 155h10v10h-10zM759 242h10v10h-10zM666 273h10v10h-10zM720 397h10v10h-10zM560 397h10v10h-10zM523 485h10v10h-10zM610 339h10v10h-10zM517 521h10v10h-10zM676 419h10v10h-10zM585 452h10v10h-10zM560 491h10v10h-10zM505 515h10v10h-10zM632 420h10v10h-10zM584 455h10v10h-10zM767 228h10v10h-10zM580 463h10v10h-10zM595 432h10v10h-10zM701 297h10v10h-10zM763 167h10v10h-10zM695 408h10v10h-10zM521 489h10v10h-10zM572 388h10v10h-10zM696 302h10v10h-10zM585 377h10v10h-10zM746 185h10v10h-10zM677 337h10v10h-10zM514 499h10v10h-10zM634 306h10v10h-10zM689 364h10v10h-10zM543 507h10v10h-10zM581 460h10v10h-10zM620 395h10v10h-10zM755 177h10v10h-10z"/>
<path fill="#57ffa8" d="M626 388h10v10h-10zM729 272h10v10h-10zM773 218h10v10h-10zM645 430h10v10h-10zM651 287h10v10h-10zM632 309h10v10h-10zM748 255h10v10h-10zM693 305h10v10h-10zM573 473h10v10h-10zM637 414h10v10h-10zM590 371h10v10h-10zM708 402h10v10h-10zM642 426h10v10h-10zM635 419h10v10h-10zM761 371h10v10h-10zM776 152h10v10h-10zM618 329h10v10h-10zM702 253h10v10h-10zM540 439h10v10h-10zM551 498h10v10h-10zM755 319h10v10h-10zM594 366h10v10h-10zM683 319h10v10h-10zM575 469h10v10h-10zM588 443h10v10h-10zM507 520h10v10h-10zM796 159h10v10h-10zM527 516h10v10h-10zM749 183h10v10h-10zM646 293h10v10h-10zM663 378h10v10h-10zM535 511h10v10h-10zM586 446h10v10h-10zM785 147h10v10h-10zM648 291h10v10h-10zM691 409h10v10h-10zM644 406h10v10h-10zM620 327h10v10h-10zM555 493h10v10h-10zM764 168h10v10h-10zM748 377h10v10h-10zM673 340h10v10h-10zM716 398h10v10h-10zM740 332h10v10h-10zM626 386h10v10h-10zM654 428h10v10h-10zM511 506h10v10h-10zM652 361h10v10h-10zM741 381h10v10h-10zM769 161h10v10h-10zM762 234h10v10h-10zM691 262h10v10h-10zM790 181h10v10h-10zM782 149h10v10h-10zM682 414h10v10h-10zM734 197h10v10h-10zM668 345h10v10h-10zM739 262h10v10h-10zM565 480h10v10h-10zM551 496h10v10h-10zM687 411h10v10h-10zM568 476h10v10h-10zM577 386h10v10h-10zM508 516h10v10h-10zM521 517h10v10h-10zM521 494h10v10h-10z"/>
<path fill="#67ff98" d="M776 359h10v10h-10zM709 288h10v10h-10zM781 292h10v10h-10zM639 418h10v10h-10zM785 148h10v10h-10zM542 435h10v10h-10zM546 422h10v10h-10zM580 455h10v10h-10zM513 505h10v10h-10zM531 476h10v10h-10zM684 316h10v10h-10zM644 422h10v10h-10zM820 306h10v10h-10zM645 423h10v10h-10zM530 479h10v10h-10zM611 403h10v10h-10zM648 363h10v10h-10zM536 456h10v10h-10zM512 518h10v10h-10zM638 372h10v10h-10zM788 147h10v10h-10zM588 440h10v10h-10zM782 197h10v10h-10zM576 462h10v10h-10zM581 452h10v10h-10zM557 489h10v10h-10zM511 510h10v10h-10zM615 397h10v10h-10zM546 500h10v10h-10zM604 413h10v10h-10zM725 274h10v10h-10zM600 359h10v10h-10zM649 422h10v10h-10zM642 413h10v10h-10zM738 193h10v10h-10zM650 423h10v10h-10zM635 374h10v10h-10zM630 379h10v10h-10zM590 374h10v10h-10zM794 166h10v10h-10zM562 482h10v10h-10zM779 203h10v10h-10zM597 424h10v10h-10zM535 462h10v10h-10zM731 201h10v10h-10zM518 501h10v10h-10zM513 516h10v10h-10zM749 325h10v10h-10zM816 301h10v10h-10zM781 198h10v10h-10zM717 228h10v10h-10zM774 213h10v10h-10zM645 363h10v10h-10zM610 402h10v10h-10zM526 489h10v10h-10zM630 316h10v10h-10zM748 252h10v10h-10zM583 383h10v10h-10zM616 336h10v10h-10zM577 457h10v10h-10zM605 409h10v10h-10zM598 364h10v10h-10zM746 254h10v10h-10zM619 389h10v10h-10zM629 318h10v10h-10zM615 338h10v10h-10zM679 325h10v10h-10zM711 244h10v10h-10zM758 177h10v10h-10zM775 157h10v10h-10zM568 472h10v10h-10zM621 386h10v10h-10zM529 485h10v10h-10zM754 244h10v10h-10zM770 219h10v10h-10zM564 396h10v10h-10zM598 421h10v10h-10zM558 485h10v10h-10zM525 493h10v10h-10zM642 363h10v10h-10zM713 281h10v10h-10zM588 437h10v10h-10zM573 463h10v10h-10zM648 403h10v10h-10zM611 397h10v10h-10zM696 260h10v10h-10z"/>
<path fill="#77ff88" d="M565 475h10v10h-10zM643 361h10v10h-10zM546 497h10v10h-10zM641 302h10v10h-10zM587 380h10v10h-10zM735 264h10v10h-10zM604 356h10v10h-10zM612 344h10v10h-10zM623 381h10v10h-10zM672 337h10v10h-10zM606 404h10v10h-10zM633 370h10v10h-10zM518 507h10v10h-10zM722 275h10v10h-10zM664 346h10v10h-10zM716 237h10v10h-10zM708 286h10v10h-10zM677 328h10v10h-10zM534 477h10v10h-10zM637 365h10v10h-10zM538 504h10v10h-10zM734 385h10v10h-10zM537 463h10v10h-10zM653 356h10v10h-10zM617 387h10v10h-10zM641 361h10v10h-10zM576 389h10v10h-10zM626 325h10v10h-10zM529 509h10v10h-10zM517 511h10v10h-10zM569 393h10v10h-10zM567 471h10v10h-10zM767 223h10v10h-10zM784 188h10v10h-10zM522 512h10v10h-10zM788 177h10v10h-10zM786 182h10v10h-10zM695 366h10v10h-10zM763 174h10v10h-10zM541 446h10v10h-10zM658 352h10v10h-10zM676 373h10v10h-10zM545 430h10v10h-10zM628 373h10v10h-10zM651 356h10v10h-10zM690 306h10v10h-10zM628 323h10v10h-10zM790 152h10v10h-10zM624 377h10v10h-10zM585 440h10v10h-10zM774 299h10v10h-10zM771 302h10v10h-10zM815 311h10v10h-10zM613 390h10v10h-10zM536 472h10v10h-10zM541 449h10v10h-10zM784 187h10v10h-10zM710 281h10v10h-10zM706 287h10v10h-10zM718 230h10v10h-10zM657 385h10v10h-10zM774 160h10v10h-10zM549 492h10v10h-10zM792 159h10v10h-10zM703 255h10v10h-10zM624 330h10v10h-10zM630 369h10v10h-10zM791 166h10v10h-10zM610 350h10v10h-10zM619 381h10v10h-10zM647 413h10v10h-10zM719 226h10v10h-10zM666 342h10v10h-10zM622 377h10v10h-10zM703 290h10v10h-10zM605 358h10v10h-10zM632 366h10v10h-10zM589 380h10v10h-10zM539 462h10v10h-10zM622 334h10v10h-10zM525 509h10v10h-10zM657 423h10v10h-10zM553 487h10v10h-10zM655 388h10v10h-10zM655 286h10v10h-10zM570 463h10v10h-10zM714 359h10v10h-10zM798 291h10v10h-10zM539 501h10v10h-10zM646 411h10v10h-10zM647 354h10v10h-10zM599 414h10v10h-10zM705 400h10v10h-10zM668 339h10v10h-10zM609 391h10v10h-10zM550 417h10v10h-10zM597 371h10v10h-10zM642 355h10v10h-10zM536 503h10v10h-10zM600 407h10v10h-10zM684 268h10v10h-10zM637 311h10v10h-10zM603 401h10v10h-10zM586 436h10v10h-10zM636 314h10v10h-10zM547 426h10v10h-10zM582 387h10v10h-10zM771 165h10v10h-10zM603 363h10v10h-10zM543 441h10v10h-10z"/>
<path fill="#88ff77" d="M702 401h10v10h-10zM669 418h10v10h-10zM525 503h10v10h-10zM782 154h10v10h-10zM679 270h10v10h-10zM610 353h10v10h-10zM756 239h10v10h-10zM576 450h10v10h-10zM788 170h10v10h-10zM786 175h10v10h-10zM680 319h10v10h-10zM792 290h10v10h-10zM726 269h10v10h-10zM526 502h10v10h-10zM606 393h10v10h-10zM598 371h10v10h-10zM787 172h10v10h-10zM666 419h10v10h-10zM542 456h10v10h-10zM539 470h10v10h-10zM650 293h10v10h-10zM724 216h10v10h-10zM715 241h10v10h-10zM770 216h10v10h-10zM780 295h10v10h-10zM580 444h10v10h-10zM698 366h10v10h-10zM643 352h10v10h-10zM598 412h10v10h-10zM634 358h10v10h-10zM615 348h10v10h-10zM589 429h10v10h-10zM594 421h10v10h-10zM537 481h10v10h-10zM760 232h10v10h-10zM646 299h10v10h-10zM693 405h10v10h-10zM613 381h10v10h-10zM560 475h10v10h-10zM617 346h10v10h-10zM608 387h10v10h-10zM623 369h10v10h-10zM595 376h10v10h-10zM532 492h10v10h-10zM536 484h10v10h-10zM606 389h10v10h-10zM714 273h10v10h-10zM733 341h10v10h-10zM625 335h10v10h-10zM722 221h10v10h-10zM531 495h10v10h-10zM633 323h10v10h-10zM538 480h10v10h-10zM622 340h10v10h-10zM724 392h10v10h-10zM676 414h10v10h-10zM727 267h10v10h-10zM706 279h10v10h-10zM542 463h10v10h-10zM545 448h10v10h-10zM708 274h10v10h-10zM625 365h10v10h-10zM597 409h10v10h-10zM719 233h10v10h-10zM649 412h10v10h-10zM612 380h10v10h-10zM631 358h10v10h-10zM545 437h10v10h-10zM528 503h10v10h-10zM745 377h10v10h-10zM688 267h10v10h-10zM660 345h10v10h-10zM618 372h10v10h-10zM652 350h10v10h-10zM789 157h10v10h-10zM633 355h10v10h-10zM683 371h10v10h-10zM621 343h10v10h-10zM562 402h10v10h-10zM590 383h10v10h-10zM589 427h10v10h-10zM533 493h10v10h-10zM598 374h10v10h-10zM592 422h10v10h-10zM658 420h10v10h-10zM782 178h10v10h-10zM700 289h10v10h-10zM638 350h10v10h-10zM598 400h10v10h-10zM546 443h10v10h-10zM580 391h10v10h-10zM642 307h10v10h-10zM573 395h10v10h-10zM609 360h10v10h-10zM548 487h10v10h-10zM631 329h10v10h-10zM779 159h10v10h-10zM668 378h10v10h-10zM777 197h10v10h-10zM654 289h10v10h-10zM544 491h10v10h-10zM773 208h10v10h-10zM716 271h10v10h-10zM707 272h10v10h-10zM746 329h10v10h-10zM653 349h10v10h-10z"/>
<path fill="#98ff67" d="M531 500h10v10h-10zM808 297h10v10h-10zM604 386h10v10h-10zM804 295h10v10h-10zM563 467h10v10h-10zM739 335h10v10h-10zM701 286h10v10h-10zM712 361h10v10h-10zM651 413h10v10h-10zM676 323h10v10h-10zM568 458h10v10h-10zM634 351h10v10h-10zM614 373h10v10h-10zM551 420h10v10h-10zM601 391h10v10h-10zM642 308h10v10h-10zM560 471h10v10h-10zM600 393h10v10h-10zM767 219h10v10h-10zM555 478h10v10h-10zM623 362h10v10h-10zM629 355h10v10h-10zM774 165h10v10h-10zM768 173h10v10h-10zM621 364h10v10h-10zM725 351h10v10h-10zM542 474h10v10h-10zM557 475h10v10h-10zM672 376h10v10h-10zM596 400h10v10h-10zM786 165h10v10h-10zM711 270h10v10h-10zM626 339h10v10h-10zM539 495h10v10h-10zM557 409h10v10h-10zM587 428h10v10h-10zM694 296h10v10h-10zM736 259h10v10h-10zM579 441h10v10h-10zM637 322h10v10h-10zM533 498h10v10h-10zM594 381h10v10h-10zM756 373h10v10h-10zM659 384h10v10h-10zM640 347h10v10h-10zM585 389h10v10h-10zM716 394h10v10h-10zM544 467h10v10h-10zM640 314h10v10h-10zM761 179h10v10h-10zM685 309h10v10h-10zM594 406h10v10h-10zM782 173h10v10h-10zM569 454h10v10h-10zM574 446h10v10h-10zM613 371h10v10h-10zM567 399h10v10h-10zM790 345h10v10h-10zM560 406h10v10h-10zM778 190h10v10h-10zM542 491h10v10h-10zM587 427h10v10h-10zM682 313h10v10h-10zM616 354h10v10h-10zM771 170h10v10h-10zM731 262h10v10h-10zM691 405h10v10h-10zM548 433h10v10h-10zM578 394h10v10h-10zM631 350h10v10h-10zM547 456h10v10h-10zM775 201h10v10h-10zM652 398h10v10h-10zM721 355h10v10h-10zM618 352h10v10h-10zM604 381h10v10h-10zM548 438h10v10h-10zM773 206h10v10h-10zM540 485h10v10h-10zM729 263h10v10h-10zM686 307h10v10h-10zM593 415h10v10h-10zM757 181h10v10h-10zM621 360h10v10h-10zM756 236h10v10h-10zM537 492h10v10h-10zM657 418h10v10h-10zM610 363h10v10h-10zM703 273h10v10h-10zM760 317h10v10h-10zM696 368h10v10h-10zM569 452h10v10h-10zM679 411h10v10h-10zM614 367h10v10h-10zM547 460h10v10h-10zM605 370h10v10h-10zM596 394h10v10h-10zM553 418h10v10h-10zM549 451h10v10h-10zM626 343h10v10h-10zM631 335h10v10h-10zM718 268h10v10h-10zM599 386h10v10h-10zM778 356h10v10h-10zM657 344h10v10h-10zM545 471h10v10h-10zM690 300h10v10h-10zM623 355h10v10h-10zM547 484h10v10h-10zM608 373h10v10h-10zM576 442h10v10h-10zM611 369h10v10h-10zM615 358h10v10h-10zM645 306h10v10h-10zM602 380h10v10h-10zM772 207h10v10h-10zM592 413h10v10h-10zM638 325h10v10h-10zM778 184h10v10h-10zM643 344h10v10h-10z"/>
<path fill="#a8ff57" d="M592 400h10v10h-10zM785 157h10v10h-10zM702 271h10v10h-10zM781 170h10v10h-10zM624 348h10v10h-10zM814 303h10v10h-10zM785 159h10v10h-10zM548 461h10v10h-10zM808 319h10v10h-10zM687 407h10v10h-10zM761 227h10v10h-10zM552 423h10v10h-10zM745 249h10v10h-10zM593 385h10v10h-10zM721 267h10v10h-10zM667 415h10v10h-10zM696 289h10v10h-10zM700 261h10v10h-10zM635 343h10v10h-10zM591 406h10v10h-10zM564 458h10v10h-10zM618 356h10v10h-10zM551 478h10v10h-10zM603 376h10v10h-10zM728 213h10v10h-10zM750 243h10v10h-10zM655 414h10v10h-10zM642 320h10v10h-10zM590 388h10v10h-10zM566 454h10v10h-10zM783 352h10v10h-10zM777 183h10v10h-10zM550 456h10v10h-10zM771 208h10v10h-10zM703 397h10v10h-10zM714 246h10v10h-10zM594 391h10v10h-10zM779 163h10v10h-10zM629 344h10v10h-10zM650 299h10v10h-10zM697 400h10v10h-10zM658 416h10v10h-10zM721 391h10v10h-10zM547 473h10v10h-10zM570 446h10v10h-10zM663 335h10v10h-10zM706 265h10v10h-10zM662 336h10v10h-10zM714 265h10v10h-10zM558 466h10v10h-10zM659 339h10v10h-10zM546 482h10v10h-10zM651 343h10v10h-10zM669 328h10v10h-10zM654 394h10v10h-10zM552 447h10v10h-10zM696 286h10v10h-10zM699 277h10v10h-10zM632 341h10v10h-10zM795 337h10v10h-10zM551 431h10v10h-10zM735 257h10v10h-10zM812 313h10v10h-10zM670 413h10v10h-10zM589 408h10v10h-10zM701 265h10v10h-10zM637 332h10v10h-10zM795 292h10v10h-10zM578 436h10v10h-10zM670 275h10v10h-10zM698 279h10v10h-10zM557 414h10v10h-10zM551 475h10v10h-10zM647 341h10v10h-10zM669 327h10v10h-10zM725 223h10v10h-10zM726 220h10v10h-10zM644 314h10v10h-10zM644 320h10v10h-10zM636 335h10v10h-10zM710 252h10v10h-10zM808 299h10v10h-10zM578 398h10v10h-10zM558 413h10v10h-10zM691 268h10v10h-10zM697 280h10v10h-10zM643 324h10v10h-10z"/>
<path fill="#b8ff47" d="M774 192h10v10h-10zM709 263h10v10h-10zM649 303h10v10h-10zM553 426h10v10h-10zM674 320h10v10h-10zM576 399h10v10h-10zM637 339h10v10h-10zM638 339h10v10h-10zM551 464h10v10h-10zM586 421h10v10h-10zM554 469h10v10h-10zM577 436h10v10h-10zM572 441h10v10h-10zM553 458h10v10h-10zM569 402h10v10h-10zM774 180h10v10h-10zM588 393h10v10h-10zM738 254h10v10h-10zM565 449h10v10h-10zM554 455h10v10h-10zM551 469h10v10h-10zM562 454h10v10h-10zM776 170h10v10h-10zM753 372h10v10h-10zM558 461h10v10h-10zM709 254h10v10h-10zM741 251h10v10h-10zM777 356h10v10h-10zM657 412h10v10h-10zM692 371h10v10h-10zM697 266h10v10h-10zM647 310h10v10h-10zM749 242h10v10h-10zM686 301h10v10h-10zM561 411h10v10h-10zM773 175h10v10h-10zM639 335h10v10h-10zM553 465h10v10h-10zM720 241h10v10h-10zM659 286h10v10h-10zM663 331h10v10h-10zM585 396h10v10h-10zM585 403h10v10h-10zM746 245h10v10h-10zM554 436h10v10h-10zM763 182h10v10h-10zM642 331h10v10h-10zM705 260h10v10h-10zM708 260h10v10h-10zM708 393h10v10h-10zM711 392h10v10h-10zM712 363h10v10h-10zM731 210h10v10h-10zM679 312h10v10h-10zM691 290h10v10h-10zM695 275h10v10h-10zM757 183h10v10h-10zM770 307h10v10h-10zM654 339h10v10h-10zM663 281h10v10h-10zM713 250h10v10h-10zM746 189h10v10h-10zM671 321h10v10h-10z"/>
<path fill="#c8ff37" d="M650 338h10v10h-10zM584 398h10v10h-10zM557 447h10v10h-10zM557 448h10v10h-10zM676 409h10v10h-10zM732 204h10v10h-10zM773 304h10v10h-10zM771 200h10v10h-10zM571 403h10v10h-10zM585 414h10v10h-10zM771 178h10v10h-10zM761 366h10v10h-10zM727 258h10v10h-10zM725 231h10v10h-10zM653 403h10v10h-10zM674 317h10v10h-10zM689 293h10v10h-10zM771 185h10v10h-10zM694 271h10v10h-10zM760 183h10v10h-10zM578 429h10v10h-10zM584 411h10v10h-10zM707 366h10v10h-10zM731 384h10v10h-10zM757 229h10v10h-10zM557 439h10v10h-10zM671 410h10v10h-10zM648 324h10v10h-10zM771 190h10v10h-10zM566 408h10v10h-10zM565 443h10v10h-10zM567 407h10v10h-10zM646 335h10v10h-10zM737 198h10v10h-10zM762 220h10v10h-10zM660 389h10v10h-10zM728 222h10v10h-10zM717 259h10v10h-10zM562 446h10v10h-10zM691 280h10v10h-10zM688 373h10v10h-10zM800 296h10v10h-10zM649 321h10v10h-10zM770 196h10v10h-10zM560 448h10v10h-10zM765 213h10v10h-10zM664 326h10v10h-10zM690 283h10v10h-10zM558 437h10v10h-10zM805 299h10v10h-10zM713 257h10v10h-10z"/>
<path fill="#d9ff26" d="M650 312h10v10h-10zM556 431h10v10h-10zM581 409h10v10h-10zM658 393h10v10h-10zM579 423h10v10h-10zM698 395h10v10h-10zM715 389h10v10h-10zM766 210h10v10h-10zM660 329h10v10h-10zM646 331h10v10h-10zM662 409h10v10h-10zM663 409h10v10h-10zM650 315h10v10h-10zM720 258h10v10h-10zM680 307h10v10h-10zM763 364h10v10h-10zM579 422h10v10h-10zM731 254h10v10h-10zM719 246h10v10h-10zM798 331h10v10h-10zM690 274h10v10h-10zM752 235h10v10h-10zM559 421h10v10h-10zM563 441h10v10h-10zM728 228h10v10h-10zM659 407h10v10h-10zM703 392h10v10h-10zM561 440h10v10h-10zM680 375h10v10h-10zM654 333h10v10h-10zM576 426h10v10h-10zM568 409h10v10h-10zM651 333h10v10h-10zM686 293h10v10h-10zM563 415h10v10h-10zM578 406h10v10h-10zM568 435h10v10h-10zM713 364h10v10h-10zM686 292h10v10h-10zM767 189h10v10h-10zM574 428h10v10h-10zM656 316h10v10h-10zM656 320h10v10h-10zM696 395h10v10h-10zM656 330h10v10h-10zM657 295h10v10h-10z"/>
<path fill="#e9ff16" d="M655 324h10v10h-10zM575 406h10v10h-10zM658 317h10v10h-10zM758 321h10v10h-10zM659 321h10v10h-10zM694 373h10v10h-10zM656 300h10v10h-10zM733 207h10v10h-10zM667 407h10v10h-10zM730 224h10v10h-10zM652 331h10v10h-10zM723 245h10v10h-10zM732 346h10v10h-10zM654 310h10v10h-10zM766 206h10v10h-10zM682 299h10v10h-10zM727 236h10v10h-10zM720 254h10v10h-10zM578 416h10v10h-10zM718 361h10v10h-10zM661 323h10v10h-10zM686 282h10v10h-10zM720 386h10v10h-10zM566 434h10v10h-10zM656 399h10v10h-10zM726 253h10v10h-10zM726 241h10v10h-10zM721 252h10v10h-10zM701 391h10v10h-10zM766 194h10v10h-10zM763 187h10v10h-10zM755 324h10v10h-10zM660 310h10v10h-10zM793 338h10v10h-10zM736 379h10v10h-10zM680 405h10v10h-10zM666 318h10v10h-10z"/>
<path fill="#f9ff06" d="M732 250h10v10h-10zM562 431h10v10h-10zM564 418h10v10h-10zM734 249h10v10h-10zM571 427h10v10h-10zM728 242h10v10h-10zM741 243h10v10h-10zM562 423h10v10h-10zM674 311h10v10h-10zM575 419h10v10h-10zM570 428h10v10h-10zM666 316h10v10h-10zM725 384h10v10h-10zM657 306h10v10h-10zM727 250h10v10h-10zM687 402h10v10h-10zM573 411h10v10h-10zM684 277h10v10h-10zM745 239h10v10h-10zM688 401h10v10h-10zM764 362h10v10h-10zM760 217h10v10h-10zM706 371h10v10h-10zM733 247h10v10h-10zM732 247h10v10h-10zM731 237h10v10h-10zM809 306h10v10h-10zM733 237h10v10h-10zM709 385h10v10h-10zM714 385h10v10h-10zM742 240h10v10h-10zM737 238h10v10h-10zM704 386h10v10h-10zM682 295h10v10h-10zM659 306h10v10h-10zM711 382h10v10h-10zM707 380h10v10h-10zM702 372h10v10h-10zM707 377h10v10h-10zM710 376h10v10h-10zM563 425h10v10h-10zM804 320h10v10h-10zM709 372h10v10h-10zM573 415h10v10h-10zM698 374h10v10h-10zM570 414h10v10h-10zM700 384h10v10h-10zM567 428h10v10h-10zM699 382h10v10h-10zM770 310h10v10h-10zM799 298h10v10h-10zM809 312h10v10h-10z"/>
<path fill="#fff500" d="M676 276h10v10h-10zM666 384h10v10h-10zM735 232h10v10h-10zM715 377h10v10h-10zM659 296h10v10h-10zM801 324h10v10h-10zM788 296h10v10h-10zM746 236h10v10h-10zM659 300h10v10h-10zM697 380h10v10h-10zM755 188h10v10h-10zM683 286h10v10h-10zM768 359h10v10h-10zM679 277h10v10h-10zM570 418h10v10h-10zM717 379h10v10h-10zM796 297h10v10h-10zM668 313h10v10h-10zM741 233h10v10h-10zM713 369h10v10h-10zM665 283h10v10h-10zM734 212h10v10h-10zM697 383h10v10h-10zM694 392h10v10h-10zM660 400h10v10h-10zM726 356h10v10h-10zM753 225h10v10h-10zM759 190h10v10h-10zM790 341h10v10h-10zM669 279h10v10h-10zM720 381h10v10h-10z"/>
<path fill="#ffe500" d="M734 219h10v10h-10zM683 377h10v10h-10zM682 283h10v10h-10zM665 309h10v10h-10zM764 199h10v10h-10zM676 404h10v10h-10zM692 394h10v10h-10zM786 297h10v10h-10zM781 301h10v10h-10zM730 380h10v10h-10zM738 203h10v10h-10zM772 356h10v10h-10zM663 306h10v10h-10zM670 310h10v10h-10zM741 200h10v10h-10zM734 345h10v10h-10zM735 226h10v10h-10zM749 228h10v10h-10zM739 229h10v10h-10zM676 303h10v10h-10zM746 194h10v10h-10zM731 350h10v10h-10zM745 371h10v10h-10zM663 298h10v10h-10z"/>
<path fill="#ffd500" d="M720 365h10v10h-10zM743 199h10v10h-10zM743 229h10v10h-10zM748 369h10v10h-10zM665 401h10v10h-10zM662 292h10v10h-10zM761 193h10v10h-10zM754 220h10v10h-10zM738 374h10v10h-10zM691 379h10v10h-10zM743 336h10v10h-10zM727 378h10v10h-10zM719 371h10v10h-10zM720 373h10v10h-10zM750 330h10v10h-10zM750 223h10v10h-10zM743 227h10v10h-10zM741 226h10v10h-10zM672 403h10v10h-10zM736 213h10v10h-10zM775 308h10v10h-10zM803 305h10v10h-10z"/>
<path fill="#ffc400" d="M797 327h10v10h-10zM669 307h10v10h-10zM801 320h10v10h-10zM806 311h10v10h-10zM785 299h10v10h-10zM679 292h10v10h-10zM678 282h10v10h-10zM726 361h10v10h-10zM741 371h10v10h-10zM753 365h10v10h-10zM663 293h10v10h-10zM739 218h10v10h-10zM756 215h10v10h-10zM736 373h10v10h-10zM766 317h10v10h-10zM677 295h10v10h-10z"/>
<path fill="#ffb400" d="M752 365h10v10h-10zM725 373h10v10h-10zM778 350h10v10h-10zM689 384h10v10h-10zM741 209h10v10h-10zM758 210h10v10h-10zM801 305h10v10h-10zM770 314h10v10h-10zM803 314h10v10h-10zM776 351h10v10h-10zM674 381h10v10h-10zM744 207h10v10h-10zM749 219h10v10h-10zM726 365h10v10h-10zM675 282h10v10h-10zM679 401h10v10h-10zM732 373h10v10h-10zM683 382h10v10h-10zM751 191h10v10h-10zM725 370h10v10h-10zM760 205h10v10h-10z"/>
<path fill="#ffa400" d="M753 196h10v10h-10zM792 333h10v10h-10zM784 344h10v10h-10zM756 362h10v10h-10zM670 300h10v10h-10zM669 293h10v10h-10zM797 302h10v10h-10zM742 216h10v10h-10zM673 299h10v10h-10zM751 194h10v10h-10zM782 346h10v10h-10zM759 198h10v10h-10zM745 219h10v10h-10zM676 285h10v10h-10zM728 364h10v10h-10zM750 200h10v10h-10zM794 328h10v10h-10zM667 290h10v10h-10zM669 290h10v10h-10zM678 382h10v10h-10zM686 386h10v10h-10zM671 400h10v10h-10zM755 200h10v10h-10zM666 397h10v10h-10zM688 389h10v10h-10z"/>
<path fill="#ff9400" d="M676 288h10v10h-10zM734 370h10v10h-10zM730 369h10v10h-10zM671 287h10v10h-10zM747 215h10v10h-10zM734 349h10v10h-10zM750 214h10v10h-10zM684 397h10v10h-10zM787 338h10v10h-10zM740 341h10v10h-10zM731 362h10v10h-10zM759 359h10v10h-10zM732 356h10v10h-10zM747 208h10v10h-10zM755 208h10v10h-10zM800 315h10v10h-10zM734 363h10v10h-10zM756 205h10v10h-10zM751 210h10v10h-10zM733 361h10v10h-10zM801 309h10v10h-10z"/>
<path fill="#ff8400" d="M749 207h10v10h-10zM767 319h10v10h-10zM781 306h10v10h-10zM665 391h10v10h-10zM668 396h10v10h-10zM744 365h10v10h-10zM739 364h10v10h-10zM676 399h10v10h-10zM686 391h10v10h-10zM733 357h10v10h-10z"/>
<path fill="#ff7300" d="M738 344h10v10h-10zM668 389h10v10h-10zM778 311h10v10h-10zM762 324h10v10h-10zM796 318h10v10h-10zM764 355h10v10h-10zM787 333h10v10h-10zM672 387h10v10h-10z"/>
<path fill="#ff6300" d="M797 315h10v10h-10zM680 387h10v10h-10zM771 319h10v10h-10zM741 361h10v10h-10zM789 328h10v10h-10zM675 386h10v10h-10zM791 324h10v10h-10zM673 394h10v10h-10zM788 302h10v10h-10zM771 350h10v10h-10zM738 357h10v10h-10z"/>
<path fill="#ff5300" d="M775 317h10v10h-10zM681 391h10v10h-10zM749 359h10v10h-10zM679 393h10v10h-10zM787 328h10v10h-10zM764 325h10v10h-10zM743 359h10v10h-10zM773 320h10v10h-10zM675 390h10v10h-10z"/>
<path fill="#ff4300" d="M760 355h10v10h-10z"/>
<path fill="#ff3300" d="M795 312h10v10h-10zM771 323h10v10h-10zM744 341h10v10h-10zM785 326h10v10h-10zM753 333h10v10h-10zM793 305h10v10h-10zM739 348h10v10h-10zM786 305h10v10h-10zM789 319h10v10h-10zM757 331h10v10h-10z"/>
<path fill="#ff2200" d="M792 314h10v10h-10zM780 338h10v10h-10zM764 352h10v10h-10zM782 314h10v10h-10zM783 312h10v10h-10zM752 355h10v10h-10zM755 355h10v10h-10zM764 328h10v10h-10zM746 354h10v10h-10zM790 305h10v10h-10zM774 345h10v10h-10z"/>
<path fill="#ff1200" d="M759 331h10v10h-10zM792 311h10v10h-10zM784 313h10v10h-10zM752 335h10v10h-10zM785 319h10v10h-10zM780 322h10v10h-10zM744 351h10v10h-10zM779 324h10v10h-10zM779 330h10v10h-10zM773 326h10v10h-10zM773 328h10v10h-10z"/>
<path fill="#ff0200" d="M769 347h10v10h-10zM778 334h10v10h-10zM749 339h10v10h-10zM774 342h10v10h-10z"/>
<path fill="#f10000" d="M771 332h10v10h-10zM773 336h10v10h-10z"/>
<path fill="#e10000" d="M772 341h10v10h-10zM758 335h10v10h-10zM747 344h10v10h-10zM755 352h10v10h-10zM771 337h10v10h-10z"/>
<path fill="#d00000" d="M767 344h10v10h-10zM748 346h10v10h-10zM764 335h10v10h-10zM767 342h10v10h-10z"/>
<path fill="#c00000" d="M750 349h10v10h-10zM756 339h10v10h-10zM761 338h10v10h-10z"/>
<path fill="#b00000" d="M753 344h10v10h-10zM758 348h10v10h-10zM760 347h10v10h-10z"/>
<path fill="#fff" d="M704 334H710V341H704zM714 311H719V322H714zM720 335H725V339H720zM740 304H749V308H740zM751 295H753V302H751zM759 304H765V311H759zM757 270H762V273H757zM789 274H796V276H789zM805 274H815V287H805zM817 256H822V262H817zM456 569H464V574H456zM420 605H435V610H420zM462 595H472V597H462zM514 547H517V560H514zM728 318H733V326H728z"/>
</g>
<clipPath id="axclip"><rect x="165.9" y="24.5" width="814.6" height="815.9"/></clipPath>
<line x1="160.9" y1="845.4" x2="985.5" y2="19.5" stroke="#000" stroke-width="6.6" clip-path="url(#axclip)"/>
<g fill="none" stroke="#686868" stroke-width="1">
<rect x="165.9" y="24.5" width="814.6" height="815.9"/>
<path d="M166.4 840.4v-10M166.4 24.5v10M165.9 840.4h8M980.5 840.4h-8"/>
<path d="M302.4 840.4v-10M302.4 24.5v10M165.9 704.4h8M980.5 704.4h-8"/>
<path d="M437.7 840.4v-10M437.7 24.5v10M165.9 568.4h8M980.5 568.4h-8"/>
<path d="M573.0 840.4v-10M573.0 24.5v10M165.9 432.4h8M980.5 432.4h-8"/>
<path d="M708.3 840.4v-10M708.3 24.5v10M165.9 296.5h8M980.5 296.5h-8"/>
<path d="M843.6 840.4v-10M843.6 24.5v10M165.9 160.5h8M980.5 160.5h-8"/>
<path d="M981.0 840.4v-10M981.0 24.5v10M165.9 24.5h8M980.5 24.5h-8"/>
</g>
<g fill="#000">
<rect x="166.2" y="830.1" width="5.3" height="2.8"/><rect x="166.2" y="33.2" width="5.3" height="2.8"/><rect x="173.0" y="840.5" width="5.5" height="2.7"/><rect x="972.8" y="840.1" width="5.3" height="2.8"/>
<rect x="302.2" y="830.1" width="5.3" height="2.8"/><rect x="302.2" y="33.2" width="5.3" height="2.8"/><rect x="173.0" y="704.5" width="5.5" height="2.7"/><rect x="972.8" y="704.1" width="5.3" height="2.8"/>
<rect x="437.5" y="830.1" width="5.3" height="2.8"/><rect x="437.5" y="33.2" width="5.3" height="2.8"/><rect x="173.0" y="568.5" width="5.5" height="2.7"/><rect x="972.8" y="568.1" width="5.3" height="2.8"/>
<rect x="572.8" y="830.1" width="5.3" height="2.8"/><rect x="572.8" y="33.2" width="5.3" height="2.8"/><rect x="173.0" y="432.6" width="5.5" height="2.7"/><rect x="972.8" y="432.1" width="5.3" height="2.8"/>
<rect x="708.1" y="830.1" width="5.3" height="2.8"/><rect x="708.1" y="33.2" width="5.3" height="2.8"/><rect x="173.0" y="296.6" width="5.5" height="2.7"/><rect x="972.8" y="296.2" width="5.3" height="2.8"/>
<rect x="843.4" y="830.1" width="5.3" height="2.8"/><rect x="843.4" y="33.2" width="5.3" height="2.8"/><rect x="173.0" y="160.6" width="5.5" height="2.7"/><rect x="972.8" y="160.2" width="5.3" height="2.8"/>
<rect x="980.8" y="830.1" width="5.3" height="2.8"/><rect x="980.8" y="33.2" width="5.3" height="2.8"/><rect x="173.0" y="24.6" width="5.5" height="2.7"/><rect x="972.8" y="24.2" width="5.3" height="2.8"/>
<rect x="166.1" y="24.7" width="5.3" height="2.7"/><rect x="980.2" y="840.1" width="5.3" height="2.8"/><rect x="980.2" y="24.2" width="5" height="2.8"/><rect x="166.1" y="837.8" width="5" height="2.8"/>
</g>
<g>
<text x="156.86" y="882.90" font-size="38.80" textLength="20.48" lengthAdjust="spacingAndGlyphs">0</text><text x="136.16" y="854.80" font-size="38.80" textLength="20.48" lengthAdjust="spacingAndGlyphs">0</text>
<text x="269.83" y="882.90" font-size="38.80" textLength="65.19" lengthAdjust="spacingAndGlyphs">200</text><text x="91.53" y="718.82" font-size="38.80" textLength="65.19" lengthAdjust="spacingAndGlyphs">200</text>
<text x="406.31" y="882.90" font-size="38.80" textLength="64.70" lengthAdjust="spacingAndGlyphs">400</text><text x="92.62" y="582.83" font-size="38.80" textLength="64.08" lengthAdjust="spacingAndGlyphs">400</text>
<text x="541.62" y="882.90" font-size="38.80" textLength="65.21" lengthAdjust="spacingAndGlyphs">600</text><text x="91.52" y="446.85" font-size="38.80" textLength="65.21" lengthAdjust="spacingAndGlyphs">600</text>
<text x="676.31" y="882.90" font-size="38.80" textLength="64.91" lengthAdjust="spacingAndGlyphs">800</text><text x="91.81" y="310.87" font-size="38.80" textLength="64.91" lengthAdjust="spacingAndGlyphs">800</text>
<text x="802.01" y="882.90" font-size="38.80" textLength="84.26" lengthAdjust="spacingAndGlyphs">1000</text><text x="71.59" y="174.88" font-size="38.80" textLength="85.11" lengthAdjust="spacingAndGlyphs">1000</text>
<text x="937.95" y="882.90" font-size="38.80" textLength="83.21" lengthAdjust="spacingAndGlyphs">1200</text><text x="71.59" y="38.90" font-size="38.80" textLength="85.11" lengthAdjust="spacingAndGlyphs">1200</text>
</g>
<g class="ax">
<text x="397.35" y="939.30" font-size="38.50" textLength="171.60" lengthAdjust="spacingAndGlyphs">Reference</text>
<text x="581.22" y="939.30" font-size="38.50" textLength="28.03" lengthAdjust="spacingAndGlyphs" font-style="italic">G</text>
<text x="617.51" y="939.30" font-size="38.50" textLength="10.68" lengthAdjust="spacingAndGlyphs">(</text>
<text x="628.82" y="939.30" font-size="38.50" textLength="38.01" lengthAdjust="spacingAndGlyphs">W</text>
<text x="673.76" y="939.30" font-size="38.50" textLength="33.17" lengthAdjust="spacingAndGlyphs">m</text>
<text x="708.56" y="919.70" font-size="27.00" textLength="22.72" lengthAdjust="spacingAndGlyphs">-2</text>
<text x="732.79" y="939.30" font-size="38.50" textLength="11.93" lengthAdjust="spacingAndGlyphs">)</text>
</g>
<g transform="translate(46.4 600) rotate(-90)" class="ax">
<text x="15.47" y="0.00" font-size="38.50" textLength="120.49" lengthAdjust="spacingAndGlyphs">HC3v4</text>
<text x="150.36" y="0.00" font-size="38.50" textLength="29.05" lengthAdjust="spacingAndGlyphs" font-style="italic">G</text>
<text x="187.48" y="0.00" font-size="38.50" textLength="12.43" lengthAdjust="spacingAndGlyphs">(</text>
<text x="201.83" y="0.00" font-size="38.50" textLength="36.00" lengthAdjust="spacingAndGlyphs">W</text>
<text x="245.11" y="0.00" font-size="38.50" textLength="32.46" lengthAdjust="spacingAndGlyphs">m</text>
<text x="278.85" y="-19.50" font-size="27.00" textLength="23.06" lengthAdjust="spacingAndGlyphs">-2</text>
<text x="302.49" y="0.00" font-size="38.50" textLength="11.93" lengthAdjust="spacingAndGlyphs">)</text>
</g>
<g class="an">
<text x="191.00" y="88.70" font-size="30.50" textLength="65.65" lengthAdjust="spacingAndGlyphs">6890</text><text x="266.85" y="88.70" font-size="30.50" textLength="113.65" lengthAdjust="spacingAndGlyphs">samples</text>
<text x="191.55" y="131.30" font-size="30.50" textLength="77.05" lengthAdjust="spacingAndGlyphs">mean</text><text x="274.85" y="131.30" font-size="30.50" textLength="17.31" lengthAdjust="spacingAndGlyphs">=</text><text x="299.40" y="131.30" font-size="30.50" textLength="78.17" lengthAdjust="spacingAndGlyphs">752.6</text><text x="382.37" y="131.30" font-size="30.50" textLength="28.74" lengthAdjust="spacingAndGlyphs">W</text><text x="413.80" y="131.30" font-size="30.50" textLength="23.78" lengthAdjust="spacingAndGlyphs">m</text><text x="441.05" y="117.60" font-size="22.00" textLength="19.03" lengthAdjust="spacingAndGlyphs">-2</text>
<text x="191.66" y="174.40" font-size="30.50" textLength="55.23" lengthAdjust="spacingAndGlyphs">bias</text><text x="255.55" y="174.40" font-size="30.50" textLength="17.31" lengthAdjust="spacingAndGlyphs">=</text><text x="279.70" y="174.40" font-size="30.50" textLength="66.78" lengthAdjust="spacingAndGlyphs">-39.7</text><text x="354.56" y="174.40" font-size="30.50" textLength="29.04" lengthAdjust="spacingAndGlyphs">W</text><text x="387.56" y="174.40" font-size="30.50" textLength="24.37" lengthAdjust="spacingAndGlyphs">m</text><text x="414.02" y="160.70" font-size="22.00" textLength="19.59" lengthAdjust="spacingAndGlyphs">-2</text><text x="439.13" y="174.40" font-size="30.50" textLength="73.74" lengthAdjust="spacingAndGlyphs">(-5%)</text>
<text x="191.67" y="216.70" font-size="30.50" textLength="81.95" lengthAdjust="spacingAndGlyphs">RMSE</text><text x="280.30" y="216.70" font-size="30.50" textLength="16.71" lengthAdjust="spacingAndGlyphs">=</text><text x="305.04" y="216.70" font-size="30.50" textLength="56.33" lengthAdjust="spacingAndGlyphs">97.9</text><text x="369.57" y="216.70" font-size="30.50" textLength="28.03" lengthAdjust="spacingAndGlyphs">W</text><text x="401.07" y="216.70" font-size="30.50" textLength="24.25" lengthAdjust="spacingAndGlyphs">m</text><text x="427.99" y="203.00" font-size="22.00" textLength="20.15" lengthAdjust="spacingAndGlyphs">-2</text><text x="455.17" y="216.70" font-size="30.50" textLength="78.66" lengthAdjust="spacingAndGlyphs">(13%)</text>
<text x="191.72" y="252.80" font-size="30.50" textLength="42.09" lengthAdjust="spacingAndGlyphs">CC</text><text x="241.59" y="252.80" font-size="30.50" textLength="16.83" lengthAdjust="spacingAndGlyphs">=</text><text x="266.60" y="252.80" font-size="30.50" textLength="70.16" lengthAdjust="spacingAndGlyphs">0.821</text>
</g>
<rect x="772.4" y="774" width="193.8" height="52.1" fill="#fff" stroke="#6a6a6a" stroke-width="1"/>
<line x1="791" y1="799.4" x2="888" y2="799.4" stroke="#000" stroke-width="6.6"/>
<text x="899.64" y="813.60" font-size="28.50" textLength="13.12" lengthAdjust="spacingAndGlyphs">y</text><text x="916.93" y="813.60" font-size="28.50" textLength="17.55" lengthAdjust="spacingAndGlyphs">=</text><text x="941.66" y="813.60" font-size="28.50" textLength="15.17" lengthAdjust="spacingAndGlyphs">x</text>
<g fill="#000"><rect x="965.5" y="825.6" width="5.3" height="2.7"/><rect x="772.4" y="773.5" width="5.5" height="2.4"/><rect x="965.5" y="773.5" width="5.3" height="2.4"/></g>
</svg>
</body></html>
